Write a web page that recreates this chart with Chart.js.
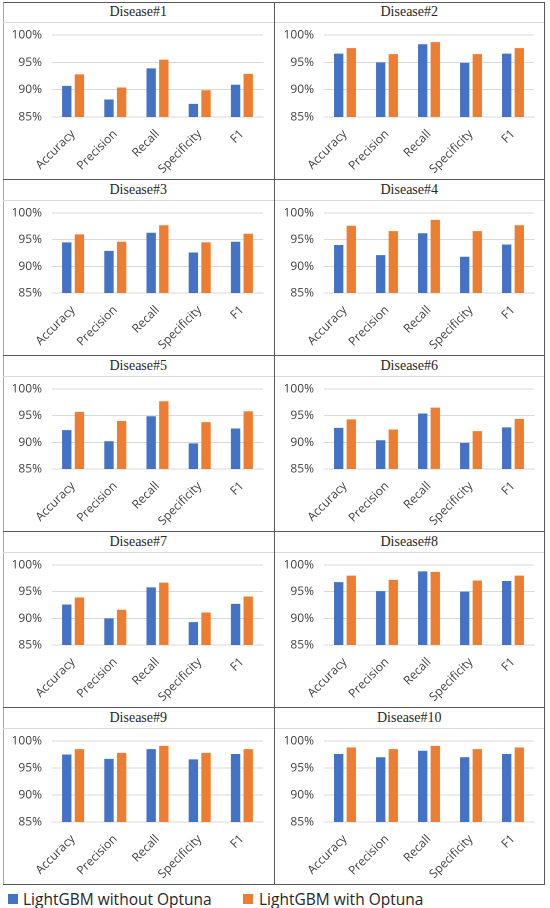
<!DOCTYPE html>
<html>
<head>
<meta charset="utf-8">
<script src="https://cdn.jsdelivr.net/npm/chart.js@4/dist/chart.umd.min.js"></script>
<style>
html,body{margin:0;padding:0;background:#fff;width:550px;height:908px;overflow:hidden;}
.cell{position:absolute;box-sizing:border-box;border-right:1px solid #595959;border-bottom:1px solid #595959;}
.title{position:absolute;left:0;top:0;right:0;height:20px;border-bottom:1px solid #d9d9d9;font-family:"Liberation Serif",serif;font-size:14px;color:#262626;text-align:center;line-height:20px;}
canvas{position:absolute;left:0;}
#legend{position:absolute;left:0;top:890px;height:18px;font-family:"Open Sans",sans-serif;font-size:15.5px;color:#262626;white-space:nowrap;}
.lg{position:absolute;top:0;line-height:18px;}
.sw{position:absolute;width:10px;height:10px;top:4px;}
</style>
</head>
<body>
<div id="frame" style="position:absolute;left:3px;top:2px;width:542px;height:883px;box-sizing:border-box;border-top:1px solid #595959;border-left:1px solid #a6a6a6;"></div>
<div id="legend"></div>
<script>
const categories = ["Accuracy", "Precision", "Recall", "Specificity", "F1"];
const seriesNames = ["LightGBM without Optuna", "LightGBM with Optuna"];
const titles = ["Disease#1","Disease#2","Disease#3","Disease#4","Disease#5","Disease#6","Disease#7","Disease#8","Disease#9","Disease#10"];
const yTicks = [85, 90, 95, 100];

const withoutOptuna = [
  [90.7, 88.2, 93.9, 87.4, 90.9],
  [96.6, 95.0, 98.3, 94.9, 96.6],
  [94.5, 92.9, 96.3, 92.6, 94.6],
  [94.0, 92.1, 96.2, 91.8, 94.1],
  [92.3, 90.2, 94.9, 89.8, 92.6],
  [92.7, 90.4, 95.4, 89.9, 92.8],
  [92.6, 90.0, 95.8, 89.3, 92.7],
  [96.8, 95.1, 98.8, 95.0, 97.0],
  [97.5, 96.7, 98.5, 96.6, 97.6],
  [97.6, 97.0, 98.2, 97.0, 97.6]
];
const withOptuna = [
  [92.8, 90.4, 95.5, 89.9, 92.9],
  [97.6, 96.5, 98.7, 96.5, 97.6],
  [96.0, 94.6, 97.7, 94.5, 96.1],
  [97.6, 96.6, 98.7, 96.6, 97.7],
  [95.7, 94.0, 97.7, 93.8, 95.8],
  [94.3, 92.4, 96.5, 92.1, 94.4],
  [93.9, 91.6, 96.7, 91.1, 94.1],
  [98.0, 97.2, 98.7, 97.1, 98.0],
  [98.5, 97.8, 99.1, 97.8, 98.5],
  [98.8, 98.5, 99.1, 98.5, 98.8]
];

const colors = ["#4472C4", "#ED7D31"];
const rowTops = [2, 180, 356, 532, 708, 885];
const colLefts = [3, 274.5, 545];

for (let i = 0; i < titles.length; i++) {
  const r = Math.floor(i / 2), c = i % 2;
  const left = colLefts[c], top = rowTops[r];
  const w = colLefts[c + 1] - left, h = rowTops[r + 1] - top;
  const cell = document.createElement('div');
  cell.className = 'cell';
  cell.style.left = left + 'px';
  cell.style.top = top + 'px';
  cell.style.width = w + 'px';
  cell.style.height = h + 'px';
  const t = document.createElement('div');
  t.className = 'title';
  t.textContent = titles[i];
  cell.appendChild(t);
  const cv = document.createElement('canvas');
  const cw = Math.floor(w) - 1, ch = Math.floor(h) - 24;
  cv.width = cw; cv.height = ch;
  cv.style.width = cw + 'px'; cv.style.height = ch + 'px';
  cv.style.top = '21px';
  cell.appendChild(cv);
  document.body.appendChild(cell);

  new Chart(cv, {
    type: 'bar',
    data: {
      labels: categories,
      datasets: [
        { label: seriesNames[0], data: withoutOptuna[i], backgroundColor: colors[0], categoryPercentage: 0.6, barPercentage: 0.74, borderWidth: 0 },
        { label: seriesNames[1], data: withOptuna[i], backgroundColor: colors[1], categoryPercentage: 0.6, barPercentage: 0.74, borderWidth: 0 }
      ]
    },
    options: {
      responsive: false,
      animation: false,
      devicePixelRatio: 2,
      layout: { padding: { left: 0, right: 10, top: 12, bottom: 2 } },
      plugins: { legend: { display: false }, tooltip: { enabled: false } },
      scales: {
        x: {
          grid: { display: false },
          border: { color: '#d9d9d9' },
          afterFit: (s) => { s.height = 58; s.paddingLeft = 0; s.paddingRight = 0; },
          ticks: { color: '#404040', font: { family: 'Open Sans', size: 12 }, minRotation: 45, maxRotation: 45, autoSkip: false, padding: 2 }
        },
        y: {
          min: yTicks[0], max: yTicks[yTicks.length - 1],
          afterBuildTicks: (s) => { s.ticks = yTicks.map(v => ({ value: v })); },
          afterFit: (s) => { s.width = 49; s.paddingTop = 0; s.paddingBottom = 0; },
          ticks: { callback: v => v + '%', color: '#404040', font: { family: 'Open Sans', size: 12 }, padding: 10 },
          grid: { color: '#d9d9d9', drawTicks: false },
          border: { display: false }
        }
      }
    }
  });
}

// legend
const legend = document.getElementById('legend');
const lgPos = [[8, 23], [243, 259]];
seriesNames.forEach((name, k) => {
  const sw = document.createElement('div');
  sw.className = 'sw';
  sw.style.left = lgPos[k][0] + 'px';
  sw.style.background = colors[k];
  legend.appendChild(sw);
  const tx = document.createElement('div');
  tx.className = 'lg';
  tx.style.left = lgPos[k][1] + 'px';
  tx.textContent = name;
  legend.appendChild(tx);
});
</script>
</body>
</html>
